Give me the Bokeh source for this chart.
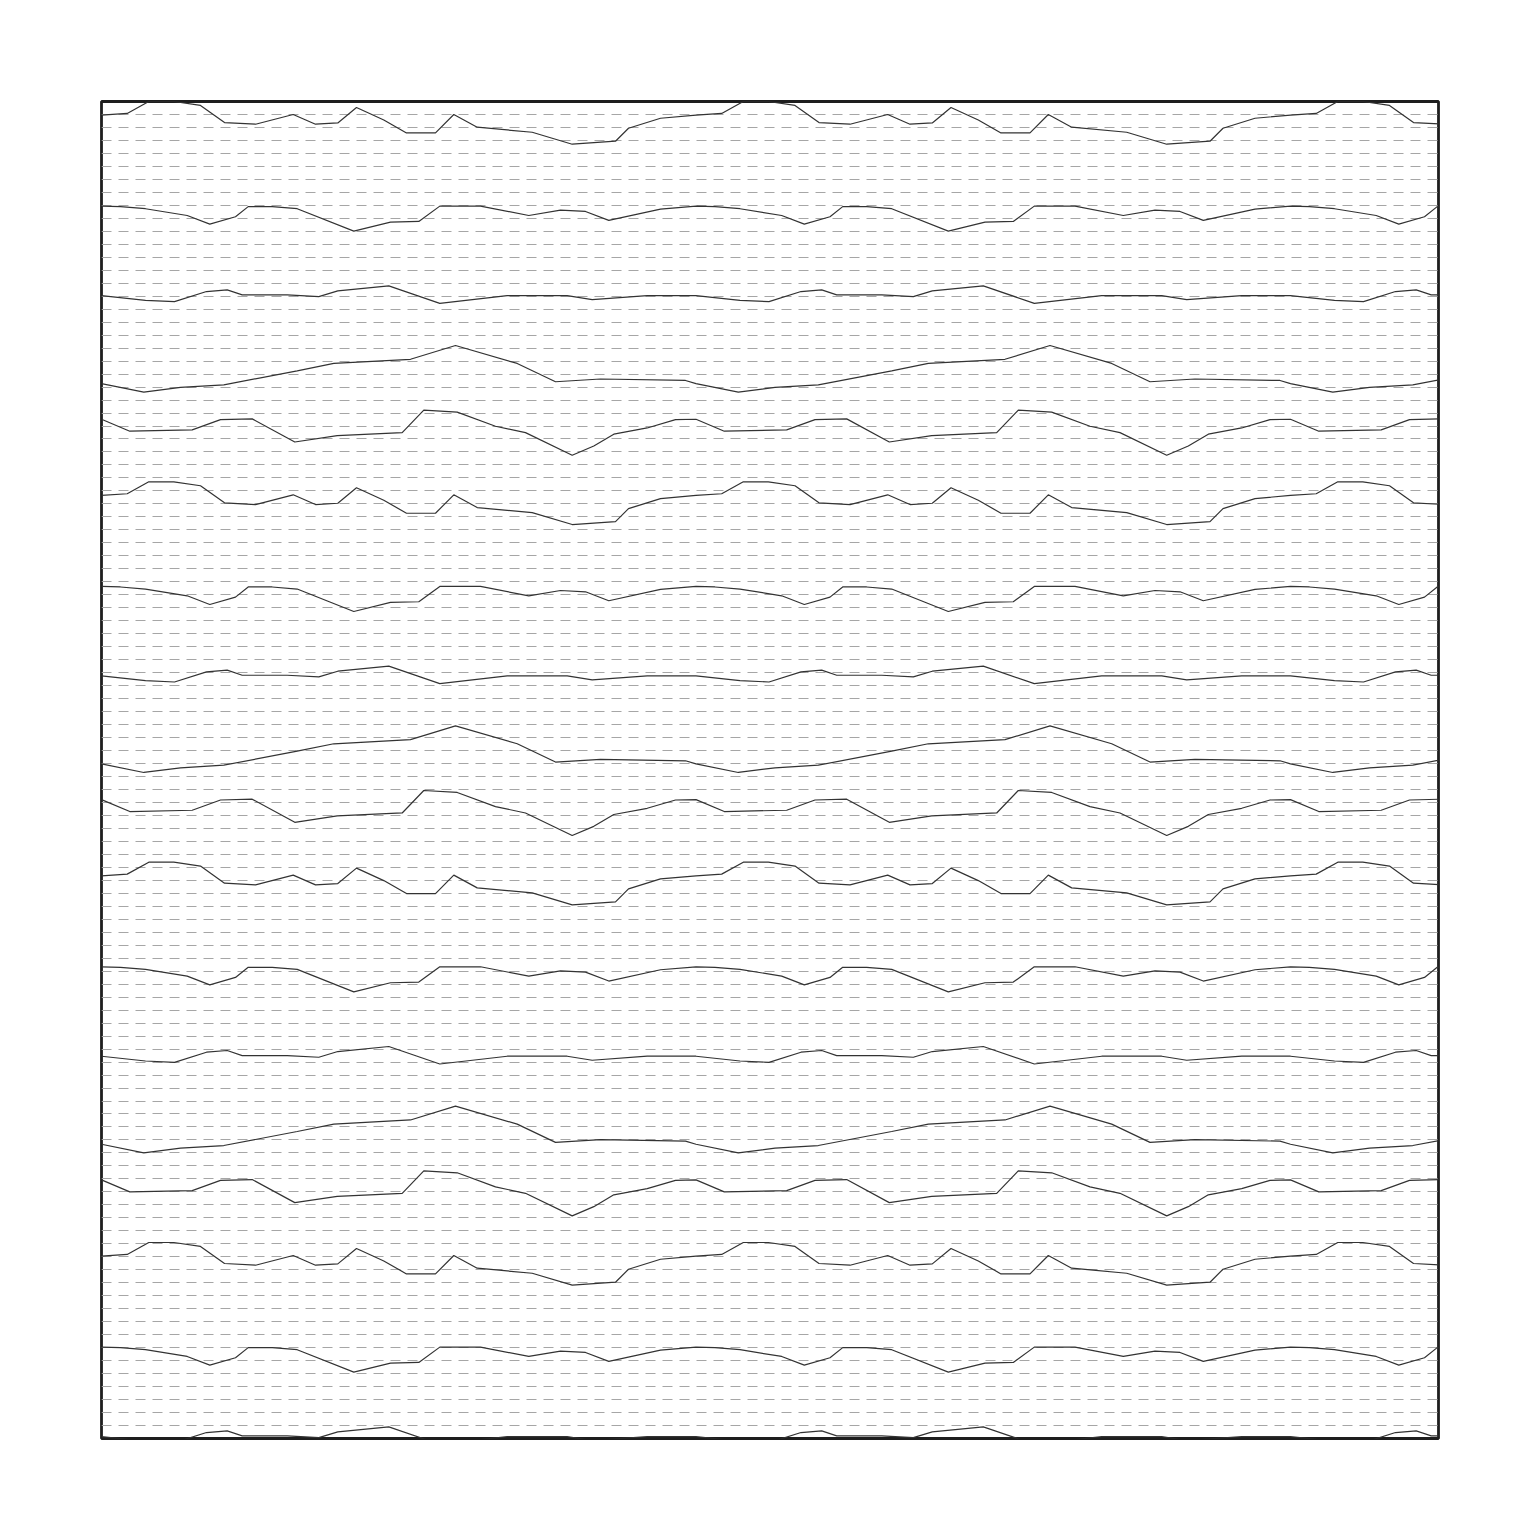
from bokeh.plotting import figure
from bokeh.models import Range1d, SingleIntervalTicker, ColumnDataSource
from bokeh.embed import file_html
from bokeh.resources import INLINE

# One horizontal period of each of the five series (x in steps, y in grid units)
PERIOD = 594.5
TILE_SHIFT = 29.3

x1 = [0, 25.7, 47.3, 72.3, 99, 123, 154, 191.7, 214, 236.3, 255, 282.3, 305, 334, 352.3, 375.7, 430.7, 470.7, 514, 527, 559, 594.5]
y1 = [101.95, 102.08, 103.0, 103.0, 102.70, 101.38, 101.25, 102.00, 101.25, 101.35, 102.54, 101.58, 100.58, 100.58, 102.00, 101.02, 100.63, 99.71, 99.94, 100.94, 101.71, 101.95]

x2 = [0, 19, 44, 85.7, 108.3, 134, 146.7, 170.7, 195.7, 252.3, 289, 317.3, 338.3, 379, 427.3, 459, 484, 507.3, 559, 594.5]
y2 = [94.94, 94.90, 94.74, 94.22, 93.55, 94.12, 94.90, 94.90, 94.74, 93.01, 93.71, 93.76, 94.94, 94.94, 94.22, 94.63, 94.53, 93.84, 94.71, 94.94]

x3 = [0, 44, 73, 105, 125.7, 140.7, 185.7, 217.3, 236.3, 287.3, 338.3, 405.7, 465.7, 490.7, 545.7, 594.5]
y3 = [88.05, 87.68, 87.58, 88.36, 88.49, 88.10, 88.10, 87.97, 88.41, 88.80, 87.45, 88.05, 88.05, 87.74, 88.05, 88.05]

x4 = [0, 42.3, 79, 122.3, 195.7, 232.3, 309, 354, 415.7, 454, 499, 584, 594.5]
y4 = [81.27, 80.61, 80.97, 81.17, 82.25, 82.82, 83.14, 84.20, 82.82, 81.41, 81.62, 81.51, 81.27]

x5 = [0, 28.3, 90.7, 119, 150.7, 193.3, 235.7, 300.7, 322.3, 355.7, 394, 424, 470.7, 492.3, 512.3, 545.7, 574, 594.5]
y5 = [78.52, 77.60, 77.70, 78.49, 78.55, 76.77, 77.26, 77.49, 79.22, 79.07, 77.98, 77.49, 75.75, 76.46, 77.37, 77.85, 78.49, 78.52]

series = [(x1, y1), (x2, y2), (x3, y3), (x4, y4), (x5, y5)]

xs, ys = [], []
for sx, sy in series:
    for k in range(4):
        lx, ly = [], []
        for r in range(3):
            start = 0 if r == 0 else 1
            lx += [v + r * PERIOD for v in sx[start:]]
            ly += [v - k * TILE_SHIFT for v in sy[start:]]
        xs.append(lx)
        ys.append(ly)

p = figure(width=1538, height=1538, output_backend="svg", toolbar_location=None,
           x_range=Range1d(0, 1337), y_range=Range1d(0, 103),
           min_border_left=101, min_border_right=100, min_border_top=101, min_border_bottom=100)
p.axis.visible = False
p.xgrid.visible = False
p.yaxis.ticker = SingleIntervalTicker(interval=1, num_minor_ticks=0)
p.ygrid.ticker = SingleIntervalTicker(interval=1, num_minor_ticks=0)
p.ygrid.grid_line_color = "#a6a6a6"
p.ygrid.grid_line_dash = "10 7"
p.ygrid.grid_line_width = 1.1
p.outline_line_color = "#1e1e1e"
p.outline_line_width = 2.8
p.background_fill_color = "white"
p.border_fill_color = "white"

p.multi_line(xs="xs", ys="ys", source=ColumnDataSource(dict(xs=xs, ys=ys)),
             line_color="#333333", line_width=1.2)

open("out.html", "w").write(file_html(p, INLINE))
